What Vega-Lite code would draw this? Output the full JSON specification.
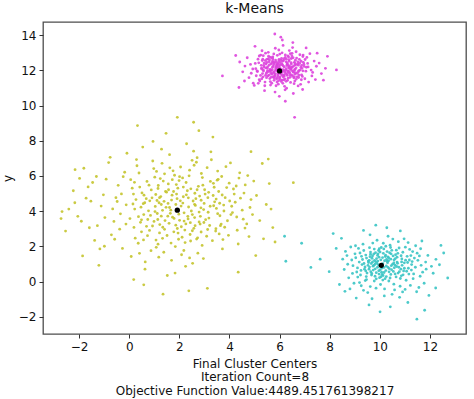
{
  "$schema": "https://vega.github.io/schema/vega-lite/v6.json",
  "autosize": "none",
  "width": 423,
  "height": 312,
  "padding": {"left": 43, "top": 22, "right": 8, "bottom": 65},
  "background": "white",
  "title": {"text": "k-Means", "fontSize": 14, "font": "DejaVu Sans", "fontWeight": "normal", "color": "#111", "offset": 6},
  "config": {
    "view": {"stroke": "#4d4d4d", "strokeWidth": 1.3},
    "axis": {"grid": false, "domain": false, "labelOverlap": false, "tickColor": "#333", "tickSize": 4, "labelFont": "DejaVu Sans", "labelFontSize": 12, "labelColor": "#111", "titleFont": "DejaVu Sans", "titleFontSize": 12, "titleFontWeight": "normal", "titleColor": "#111"}
  },
  "datasets": {
    "m": [
{"x":6.12,"y":12.31},{"x":5.74,"y":11.62},{"x":6.45,"y":12.08},{"x":5.31,"y":12.55},{"x":6.88,"y":11.74},{"x":5.95,"y":11.21},{"x":6.23,"y":12.87},{"x":5.52,"y":11.98},{"x":7.14,"y":12.19},{"x":4.87,"y":11.83},
{"x":6.03,"y":12.44},{"x":6.61,"y":11.39},{"x":5.68,"y":12.71},{"x":6.34,"y":11.55},{"x":5.19,"y":11.47},{"x":6.79,"y":12.62},{"x":5.86,"y":12.02},{"x":6.50,"y":12.96},{"x":5.41,"y":11.12},{"x":7.32,"y":11.88},
{"x":6.17,"y":11.73},{"x":4.62,"y":12.24},{"x":5.97,"y":13.15},{"x":6.72,"y":12.35},{"x":5.58,"y":12.48},{"x":6.28,"y":10.98},{"x":5.05,"y":12.09},{"x":7.01,"y":11.52},{"x":6.41,"y":12.11},{"x":5.77,"y":12.93},
{"x":6.09,"y":11.44},{"x":6.93,"y":12.78},{"x":5.24,"y":11.71},{"x":6.56,"y":11.89},{"x":5.90,"y":12.27},{"x":6.66,"y":13.05},{"x":5.46,"y":12.36},{"x":6.20,"y":11.09},{"x":7.58,"y":12.41},{"x":4.95,"y":11.27},
{"x":6.38,"y":12.52},{"x":5.63,"y":11.36},{"x":6.01,"y":11.85},{"x":6.84,"y":11.20},{"x":5.35,"y":12.83},{"x":6.47,"y":12.67},{"x":5.82,"y":10.76},{"x":7.21,"y":12.94},{"x":5.14,"y":12.63},{"x":6.25,"y":12.01},
{"x":6.70,"y":11.63},{"x":5.71,"y":12.16},{"x":6.14,"y":13.41},{"x":5.48,"y":11.58},{"x":6.98,"y":12.22},{"x":4.41,"y":12.47},{"x":6.33,"y":11.95},{"x":5.93,"y":11.69},{"x":6.59,"y":12.45},{"x":5.28,"y":12.12},
{"x":7.43,"y":11.47},{"x":6.06,"y":12.58},{"x":5.55,"y":13.02},{"x":6.77,"y":11.98},{"x":5.88,"y":11.50},{"x":6.44,"y":11.31},{"x":5.10,"y":11.96},{"x":6.86,"y":12.51},{"x":6.19,"y":12.19},{"x":5.66,"y":11.83},
{"x":7.09,"y":12.73},{"x":5.37,"y":12.27},{"x":6.52,"y":13.29},{"x":5.99,"y":10.52},{"x":6.30,"y":12.35},{"x":4.78,"y":11.58},{"x":6.62,"y":12.05},{"x":5.79,"y":12.39},{"x":7.26,"y":12.01},{"x":5.21,"y":11.39},
{"x":6.11,"y":11.90},{"x":6.91,"y":11.65},{"x":5.60,"y":12.59},{"x":6.36,"y":12.76},{"x":5.03,"y":12.39},{"x":6.74,"y":11.11},{"x":5.84,"y":11.99},{"x":6.48,"y":11.73},{"x":5.44,"y":12.97},{"x":7.67,"y":11.81},
{"x":6.04,"y":12.07},{"x":5.69,"y":11.27},{"x":6.27,"y":12.63},{"x":6.95,"y":12.45},{"x":5.32,"y":11.81},{"x":6.57,"y":11.57},{"x":5.91,"y":12.85},{"x":6.15,"y":11.62},{"x":4.99,"y":11.14},{"x":6.81,"y":12.88},
{"x":5.75,"y":12.22},{"x":6.40,"y":12.23},{"x":5.53,"y":11.68},{"x":7.05,"y":11.95},{"x":6.22,"y":10.89},{"x":5.17,"y":12.42},{"x":6.64,"y":12.31},{"x":5.96,"y":11.41},{"x":6.35,"y":11.87},{"x":5.62,"y":12.05},
{"x":7.38,"y":12.52},{"x":4.71,"y":12.71},{"x":6.08,"y":12.68},{"x":5.86,"y":11.12},{"x":6.53,"y":13.57},{"x":5.29,"y":11.52},{"x":6.89,"y":12.11},{"x":6.00,"y":12.13},{"x":5.49,"y":12.44},{"x":6.71,"y":11.82},
{"x":5.80,"y":11.66},{"x":6.26,"y":12.48},{"x":7.16,"y":11.33},{"x":5.12,"y":11.93},{"x":6.43,"y":12.94},{"x":5.72,"y":12.52},{"x":6.13,"y":11.26},{"x":5.38,"y":12.18},{"x":6.97,"y":12.34},{"x":5.94,"y":11.79},
{"x":6.58,"y":11.24},{"x":5.56,"y":12.80},{"x":6.31,"y":11.71},{"x":4.53,"y":11.91},{"x":6.82,"y":12.01},{"x":6.05,"y":13.88},{"x":5.65,"y":11.97},{"x":6.46,"y":12.43},{"x":5.25,"y":12.86},{"x":7.47,"y":12.23},
{"x":5.89,"y":12.33},{"x":6.18,"y":11.98},{"x":5.42,"y":11.33},{"x":6.68,"y":12.69},{"x":5.78,"y":11.43},{"x":6.37,"y":12.15},{"x":5.07,"y":11.69},{"x":7.02,"y":12.61},{"x":6.21,"y":11.51},{"x":5.59,"y":12.30},
{"x":6.54,"y":11.93},{"x":5.98,"y":12.62},{"x":6.87,"y":11.46},{"x":5.33,"y":12.63},{"x":6.29,"y":12.27},{"x":5.70,"y":11.78},{"x":6.10,"y":12.99},{"x":7.83,"y":12.11},{"x":4.84,"y":12.33},{"x":6.42,"y":11.60},
{"x":5.85,"y":12.10},{"x":6.63,"y":12.57},{"x":5.50,"y":11.89},{"x":6.24,"y":11.83},{"x":6.94,"y":12.86},{"x":5.27,"y":12.28},{"x":6.07,"y":11.36},{"x":5.73,"y":12.76},{"x":6.51,"y":12.19},{"x":5.15,"y":11.26},
{"x":6.78,"y":11.72},{"x":5.92,"y":11.94},{"x":6.39,"y":13.12},{"x":5.61,"y":11.53},{"x":7.12,"y":12.39},{"x":6.02,"y":11.63},{"x":5.45,"y":12.14},{"x":6.60,"y":12.03},{"x":5.83,"y":13.25},{"x":6.32,"y":11.43},
{"x":4.93,"y":12.07},{"x":6.75,"y":12.29},{"x":5.76,"y":11.87},{"x":6.16,"y":12.56},{"x":5.36,"y":11.96},{"x":7.29,"y":11.68},{"x":6.49,"y":12.82},{"x":5.97,"y":12.21},{"x":5.64,"y":11.16},{"x":6.85,"y":12.16},
{"x":6.23,"y":10.24},{"x":5.19,"y":12.81},{"x":6.67,"y":11.50},{"x":5.87,"y":12.47},{"x":6.44,"y":12.09},{"x":5.54,"y":12.65},{"x":7.07,"y":12.17},{"x":3.72,"y":11.68},{"x":8.27,"y":12.02},{"x":6.60,"y":9.33},
{"x":5.81,"y":14.06},{"x":4.38,"y":11.02},{"x":7.91,"y":12.79},{"x":5.02,"y":13.36},{"x":7.06,"y":13.27},{"x":6.55,"y":10.68},{"x":5.40,"y":10.84},{"x":7.75,"y":11.44},{"x":4.25,"y":12.84},{"x":6.11,"y":13.72},
{"x":5.30,"y":13.11},{"x":6.92,"y":10.91},{"x":7.50,"y":12.97},{"x":4.60,"y":11.39},{"x":6.06,"y":11.78},{"x":5.88,"y":12.26},{"x":6.27,"y":12.09},{"x":5.63,"y":12.00},{"x":6.41,"y":11.86},{"x":5.94,"y":12.40},
{"x":6.19,"y":11.68},{"x":5.77,"y":11.91},{"x":6.34,"y":12.31},{"x":5.53,"y":12.21},{"x":6.66,"y":12.14},{"x":5.99,"y":11.56},{"x":6.12,"y":12.51},{"x":5.69,"y":12.43},{"x":6.48,"y":11.99},{"x":5.82,"y":11.73},
{"x":6.23,"y":12.73},{"x":5.47,"y":11.82},{"x":6.75,"y":11.92},{"x":6.03,"y":12.29},{"x":5.90,"y":11.33},{"x":6.38,"y":12.60},{"x":5.58,"y":11.72},{"x":6.14,"y":12.04},{"x":5.73,"y":12.64},{"x":6.57,"y":12.25},
{"x":5.35,"y":12.02},{"x":6.29,"y":11.77},{"x":6.01,"y":12.92},{"x":5.86,"y":12.17},{"x":6.52,"y":11.67},{"x":5.66,"y":12.35},{"x":6.17,"y":11.45},{"x":6.80,"y":12.40},{"x":5.95,"y":12.05},{"x":5.43,"y":12.55},
{"x":6.36,"y":11.96},{"x":6.09,"y":12.36},{"x":5.79,"y":11.56},{"x":6.61,"y":11.78},
{"x":5.51,"y":12.12},{"x":6.47,"y":12.35},{"x":5.84,"y":12.58},{"x":6.21,"y":11.92},{"x":5.67,"y":11.61},{"x":6.73,"y":12.48},{"x":6.02,"y":11.48},{"x":5.38,"y":12.41},{"x":6.33,"y":12.82},{"x":5.92,"y":12.14},
{"x":6.59,"y":11.62},{"x":5.76,"y":12.31},{"x":6.15,"y":12.24},{"x":5.44,"y":11.71},{"x":6.88,"y":12.27},{"x":6.08,"y":11.89},{"x":5.61,"y":12.74},{"x":6.42,"y":11.73},{"x":5.97,"y":12.53},{"x":6.26,"y":11.37},
{"x":5.29,"y":12.07},{"x":6.64,"y":11.86},{"x":5.83,"y":11.81},{"x":6.31,"y":12.42},{"x":5.71,"y":12.03},{"x":6.54,"y":12.71},{"x":6.11,"y":11.71},{"x":5.49,"y":12.62},{"x":6.93,"y":11.97},{"x":5.89,"y":11.58},
{"x":6.37,"y":12.19},{"x":5.58,"y":11.93},{"x":6.18,"y":12.66},{"x":6.76,"y":11.59},{"x":5.95,"y":12.33},{"x":5.34,"y":11.63},{"x":6.49,"y":12.16},{"x":6.04,"y":11.97},{"x":5.78,"y":12.46},{"x":6.62,"y":12.37}
    ],
    "yl": [
{"x":1.45,"y":5.12},{"x":2.83,"y":3.27},{"x":0.62,"y":4.48},{"x":3.51,"y":5.76},{"x":1.97,"y":2.41},{"x":-0.35,"y":3.85},{"x":2.41,"y":6.33},{"x":4.12,"y":3.92},{"x":1.08,"y":1.95},{"x":2.66,"y":4.71},
{"x":0.21,"y":5.64},{"x":3.09,"y":2.58},{"x":1.73,"y":3.66},{"x":-1.12,"y":4.29},{"x":4.58,"y":5.03},{"x":2.25,"y":0.87},{"x":0.94,"y":6.85},{"x":3.77,"y":4.35},{"x":1.34,"y":3.09},{"x":2.94,"y":5.48},
{"x":-0.71,"y":2.66},{"x":1.61,"y":7.21},{"x":4.35,"y":2.14},{"x":0.45,"y":3.37},{"x":2.52,"y":3.81},{"x":3.28,"y":6.92},{"x":-1.64,"y":5.38},{"x":1.89,"y":4.97},{"x":0.08,"y":1.43},{"x":3.64,"y":3.18},
{"x":2.13,"y":5.89},{"x":0.77,"y":4.02},{"x":4.86,"y":4.66},{"x":1.21,"y":2.77},{"x":2.74,"y":1.62},{"x":-0.18,"y":6.21},{"x":3.35,"y":4.89},{"x":1.56,"y":5.55},{"x":5.21,"y":3.47},{"x":0.36,"y":2.18},
{"x":2.37,"y":4.24},{"x":-2.05,"y":3.71},{"x":1.02,"y":5.93},{"x":3.89,"y":5.34},{"x":2.08,"y":3.12},{"x":0.54,"y":7.64},{"x":2.97,"y":4.09},{"x":1.69,"y":1.21},{"x":4.41,"y":6.18},{"x":-0.53,"y":4.77},
{"x":2.59,"y":6.61},{"x":1.14,"y":3.53},{"x":3.18,"y":3.61},{"x":-1.38,"y":2.34},{"x":2.22,"y":2.93},{"x":0.88,"y":5.21},{"x":3.72,"y":1.86},{"x":1.81,"y":6.04},{"x":4.97,"y":5.71},{"x":0.15,"y":4.41},
{"x":2.46,"y":5.27},{"x":1.39,"y":4.56},{"x":3.45,"y":2.87},{"x":-0.92,"y":5.82},{"x":2.01,"y":3.48},{"x":0.69,"y":3.14},{"x":4.23,"y":4.51},{"x":1.52,"y":0.35},{"x":2.88,"y":6.14},{"x":-2.41,"y":4.12},
{"x":1.26,"y":4.83},{"x":3.57,"y":5.12},{"x":0.31,"y":6.58},{"x":2.69,"y":2.42},{"x":1.94,"y":5.31},{"x":-0.27,"y":1.89},{"x":4.69,"y":3.28},{"x":1.07,"y":2.36},{"x":3.03,"y":4.97},{"x":2.29,"y":7.83},
{"x":0.59,"y":4.91},{"x":5.47,"y":4.38},{"x":1.64,"y":3.88},{"x":-1.81,"y":6.44},{"x":2.79,"y":3.39},{"x":0.98,"y":6.42},{"x":3.96,"y":2.63},{"x":1.47,"y":4.22},{"x":2.18,"y":1.77},{"x":-0.61,"y":3.42},
{"x":3.24,"y":5.69},{"x":1.78,"y":2.83},{"x":0.42,"y":5.37},{"x":4.51,"y":4.06},{"x":2.55,"y":4.58},{"x":-1.03,"y":4.93},{"x":1.31,"y":6.72},{"x":3.62,"y":3.74},{"x":0.19,"y":3.08},{"x":2.91,"y":2.06},
{"x":1.86,"y":4.38},{"x":-2.68,"y":3.98},{"x":4.04,"y":6.74},{"x":1.16,"y":5.46},{"x":2.35,"y":3.56},{"x":0.73,"y":2.61},{"x":3.41,"y":4.53},{"x":1.59,"y":3.31},{"x":5.73,"y":3.07},{"x":-0.44,"y":5.47},
{"x":2.62,"y":5.02},{"x":1.04,"y":4.27},{"x":3.83,"y":4.77},{"x":2.05,"y":6.51},{"x":0.27,"y":4.66},{"x":3.15,"y":3.94},{"x":-1.27,"y":3.18},{"x":1.72,"y":5.79},{"x":4.78,"y":2.56},{"x":0.85,"y":3.76},
{"x":2.43,"y":2.68},{"x":-0.09,"y":7.29},{"x":3.53,"y":6.28},{"x":1.38,"y":1.67},{"x":2.99,"y":4.44},{"x":0.51,"y":5.04},{"x":4.29,"y":3.67},{"x":1.92,"y":3.02},{"x":-1.53,"y":4.57},{"x":2.71,"y":7.04},
{"x":1.11,"y":4.61},{"x":3.32,"y":2.33},{"x":0.64,"y":1.12},{"x":2.16,"y":4.82},{"x":-0.82,"y":6.76},{"x":4.63,"y":5.49},{"x":1.49,"y":5.08},{"x":2.84,"y":3.71},{"x":0.03,"y":3.58},{"x":3.69,"y":5.97},
{"x":1.83,"y":0.49},{"x":-2.23,"y":5.16},{"x":2.48,"y":4.01},{"x":1.22,"y":3.24},{"x":3.92,"y":3.46},{"x":0.39,"y":6.17},{"x":2.27,"y":5.63},{"x":5.08,"y":4.89},{"x":1.67,"y":2.19},{"x":-0.38,"y":2.98},
{"x":3.11,"y":6.47},{"x":0.91,"y":4.76},{"x":2.58,"y":3.03},{"x":4.16,"y":5.26},{"x":1.29,"y":7.52},{"x":-1.17,"y":1.86},{"x":2.04,"y":4.59},{"x":0.58,"y":3.81},{"x":3.48,"y":4.16},{"x":1.75,"y":6.29},
{"x":2.96,"y":1.31},{"x":-0.66,"y":4.13},{"x":4.44,"y":4.74},{"x":1.18,"y":1.39},{"x":2.39,"y":6.01},{"x":0.12,"y":5.31},{"x":3.59,"y":2.71},{"x":1.55,"y":4.44},{"x":-1.91,"y":3.43},{"x":2.76,"y":5.41},
{"x":0.81,"y":2.91},{"x":3.86,"y":6.53},{"x":2.11,"y":2.52},{"x":0.47,"y":4.23},{"x":4.92,"y":3.81},{"x":1.43,"y":3.47},{"x":-0.24,"y":5.96},{"x":3.21,"y":3.19},{"x":1.99,"y":5.74},{"x":5.59,"y":5.57},
{"x":0.71,"y":5.69},{"x":2.64,"y":4.33},{"x":-1.46,"y":5.63},{"x":1.33,"y":2.46},{"x":3.78,"y":4.01},{"x":2.19,"y":3.91},{"x":0.24,"y":2.47},{"x":4.31,"y":2.92},{"x":1.62,"y":6.46},{"x":2.87,"y":2.82},
{"x":-0.97,"y":3.64},{"x":3.39,"y":5.36},{"x":1.06,"y":4.95},{"x":2.53,"y":1.04},{"x":0.37,"y":3.69},{"x":4.09,"y":4.28},{"x":1.91,"y":4.71},{"x":-2.54,"y":2.87},{"x":3.05,"y":3.52},{"x":0.95,"y":7.96},
{"x":2.32,"y":5.16},{"x":4.73,"y":6.02},{"x":1.51,"y":2.62},{"x":-0.48,"y":4.55},{"x":3.67,"y":3.27},{"x":1.24,"y":5.85},{"x":2.81,"y":4.86},{"x":0.63,"y":0.71},{"x":3.99,"y":5.59},{"x":2.09,"y":1.53},
{"x":-1.72,"y":4.74},{"x":2.44,"y":3.35},{"x":1.12,"y":3.87},{"x":3.26,"y":7.37},{"x":0.17,"y":4.97},{"x":4.55,"y":3.55},{"x":1.79,"y":3.59},{"x":5.36,"y":2.43},{"x":-0.13,"y":3.27},{"x":2.68,"y":6.78},
{"x":0.87,"y":1.76},{"x":3.47,"y":4.69},{"x":1.41,"y":6.12},{"x":2.23,"y":2.22},{"x":-1.31,"y":5.97},{"x":4.19,"y":4.97},{"x":1.66,"y":4.06},{"x":2.92,"y":5.91},{"x":0.49,"y":2.83},{"x":3.81,"y":3.09},
{"x":2.14,"y":4.46},{"x":-0.76,"y":7.06},{"x":3.13,"y":2.96},{"x":1.28,"y":3.72},{"x":0.06,"y":5.79},{"x":2.57,"y":7.41},{"x":4.38,"y":5.88},{"x":1.84,"y":1.99},{"x":-2.17,"y":4.48},{"x":2.36,"y":4.76},
{"x":1.09,"y":6.26},{"x":3.55,"y":5.81},{"x":0.74,"y":3.53},{"x":4.82,"y":4.21},{"x":1.57,"y":5.22},{"x":2.73,"y":2.49},{"x":-0.58,"y":2.41},{"x":3.37,"y":4.31},{"x":1.95,"y":2.76},{"x":0.29,"y":6.93},
{"x":4.06,"y":3.81},{"x":2.41,"y":1.35},{"x":1.19,"y":4.48},{"x":-1.59,"y":3.06},{"x":3.17,"y":5.07},{"x":0.56,"y":4.43},{"x":5.66,"y":4.12},{"x":2.01,"y":5.96},{"x":0.99,"y":3.42},{"x":2.86,"y":4.19},
{"x":-0.31,"y":4.98},{"x":3.74,"y":2.39},{"x":1.36,"y":5.71},{"x":-1.98,"y":5.86},{"x":2.51,"y":6.89},{"x":4.62,"y":3.04},{"x":1.71,"y":4.91},{"x":0.41,"y":1.61},{"x":3.01,"y":5.22},{"x":2.26,"y":3.28},
{"x":-0.99,"y":2.01},{"x":3.61,"y":4.45},{"x":1.15,"y":2.13},{"x":4.27,"y":5.43},{"x":0.82,"y":4.59},{"x":2.61,"y":3.64},{"x":6.55,"y":5.62},{"x":5.82,"y":2.25},{"x":-2.72,"y":3.58},{"x":-1.86,"y":1.46},
{"x":0.33,"y":8.86},{"x":1.47,"y":8.42},{"x":2.78,"y":8.57},{"x":3.34,"y":8.21},{"x":1.92,"y":9.33},{"x":2.57,"y":9.05},{"x":5.31,"y":6.71},{"x":5.05,"y":1.48},{"x":0.18,"y":0.12},{"x":2.38,"y":-0.52},
{"x":3.12,"y":-0.38},{"x":1.35,"y":-0.71},{"x":4.35,"y":0.54},{"x":-1.21,"y":0.93},{"x":5.55,"y":6.96},{"x":-2.16,"y":6.36},{"x":4.86,"y":7.38},{"x":0.58,"y":-0.18},
{"x":1.61,"y":4.21},{"x":2.34,"y":3.71},{"x":1.03,"y":3.98},{"x":2.87,"y":4.62},{"x":1.77,"y":5.12},{"x":0.68,"y":4.71},{"x":2.52,"y":2.89},{"x":1.28,"y":4.38},{"x":3.23,"y":4.28},{"x":2.07,"y":4.29},
{"x":0.49,"y":3.51},{"x":2.71,"y":5.22},{"x":1.86,"y":3.21},{"x":3.53,"y":3.86},{"x":1.15,"y":5.29},{"x":2.28,"y":4.93},{"x":0.93,"y":3.16},{"x":2.98,"y":3.36},{"x":1.54,"y":3.72},{"x":3.71,"y":4.92},
{"x":2.16,"y":5.37},{"x":0.22,"y":4.12},{"x":2.61,"y":4.39},{"x":1.41,"y":2.97},{"x":3.36,"y":5.58},{"x":1.98,"y":3.83},{"x":0.79,"y":5.48},{"x":2.45,"y":2.31},{"x":1.69,"y":4.63},{"x":4.01,"y":4.58},
{"x":2.19,"y":3.44},{"x":0.57,"y":2.37},{"x":3.14,"y":4.77},{"x":1.33,"y":4.05},{"x":2.79,"y":3.95},{"x":1.88,"y":5.51},{"x":-0.12,"y":4.36},{"x":2.63,"y":3.18},{"x":1.21,"y":4.77},{"x":3.46,"y":3.01}
    ],
    "cy": [
{"x":10.32,"y":1.41},{"x":9.64,"y":0.57},{"x":10.87,"y":1.12},{"x":9.21,"y":1.63},{"x":10.05,"y":0.28},{"x":11.14,"y":0.76},{"x":9.78,"y":1.85},{"x":10.56,"y":-0.14},{"x":8.93,"y":0.91},{"x":10.41,"y":2.07},
{"x":9.47,"y":0.12},{"x":11.38,"y":1.34},{"x":10.12,"y":1.02},{"x":9.85,"y":-0.37},{"x":10.73,"y":0.49},{"x":8.69,"y":1.48},{"x":11.02,"y":1.96},{"x":9.58,"y":1.21},{"x":10.24,"y":0.63},{"x":11.61,"y":0.31},
{"x":9.33,"y":2.13},{"x":10.63,"y":1.53},{"x":9.97,"y":0.43},{"x":10.91,"y":-0.58},{"x":9.12,"y":0.26},{"x":10.48,"y":1.78},{"x":11.27,"y":0.97},{"x":9.71,"y":1.46},{"x":10.18,"y":-0.81},{"x":8.84,"y":1.97},
{"x":10.82,"y":0.18},{"x":9.41,"y":0.84},{"x":11.49,"y":1.62},{"x":10.01,"y":1.69},{"x":9.26,"y":-0.23},{"x":10.67,"y":0.86},{"x":11.83,"y":1.11},{"x":9.89,"y":2.35},{"x":10.36,"y":0.04},{"x":8.58,"y":0.69},
{"x":11.09,"y":1.44},{"x":9.67,"y":0.38},{"x":10.52,"y":2.42},{"x":9.04,"y":1.36},{"x":10.95,"y":0.61},{"x":10.27,"y":1.27},{"x":9.52,"y":-0.62},{"x":11.71,"y":0.54},{"x":10.09,"y":0.77},{"x":9.18,"y":1.11},
{"x":10.77,"y":1.91},{"x":11.22,"y":-0.21},{"x":9.81,"y":0.99},{"x":10.44,"y":0.41},{"x":8.76,"y":0.22},{"x":11.43,"y":2.04},{"x":9.93,"y":1.58},{"x":10.59,"y":-0.47},{"x":9.36,"y":1.77},{"x":10.98,"y":1.07},
{"x":12.06,"y":0.87},{"x":9.61,"y":2.66},{"x":10.21,"y":0.17},{"x":11.31,"y":1.71},{"x":8.97,"y":-0.09},{"x":10.69,"y":1.39},{"x":9.74,"y":0.66},{"x":11.56,"y":-0.33},{"x":10.14,"y":2.18},{"x":9.44,"y":1.51},
{"x":10.86,"y":0.33},{"x":9.08,"y":0.55},{"x":11.18,"y":1.23},{"x":10.03,"y":-0.16},{"x":9.55,"y":1.09},{"x":10.61,"y":0.94},{"x":11.92,"y":1.49},{"x":8.88,"y":1.23},{"x":10.39,"y":1.64},{"x":9.99,"y":0.23},
{"x":11.05,"y":0.08},{"x":9.29,"y":0.97},{"x":10.74,"y":2.27},{"x":11.65,"y":0.93},{"x":9.69,"y":-0.97},{"x":10.29,"y":1.16},{"x":8.63,"y":1.72},{"x":11.35,"y":0.44},{"x":9.87,"y":1.31},{"x":10.54,"y":0.58},
{"x":9.15,"y":1.89},{"x":10.92,"y":1.67},{"x":11.26,"y":0.66},{"x":9.49,"y":0.49},{"x":10.16,"y":1.86},{"x":12.24,"y":1.27},{"x":9.78,"y":0.04},{"x":10.46,"y":0.91},{"x":8.81,"y":-0.41},{"x":11.13,"y":2.22},
{"x":9.63,"y":1.68},{"x":10.81,"y":-0.26},{"x":10.07,"y":0.54},{"x":9.39,"y":0.71},{"x":11.52,"y":1.21},{"x":10.33,"y":2.58},{"x":9.01,"y":1.58},{"x":10.65,"y":0.27},{"x":11.77,"y":-0.09},{"x":9.91,"y":0.82},
{"x":10.23,"y":1.51},{"x":9.23,"y":0.38},{"x":10.88,"y":1.29},{"x":11.42,"y":0.82},{"x":9.59,"y":1.93},{"x":10.49,"y":-0.72},{"x":8.72,"y":0.99},{"x":11.07,"y":0.59},{"x":9.83,"y":1.14},{"x":10.71,"y":1.04},
{"x":9.35,"y":-0.49},{"x":12.13,"y":0.48},{"x":10.11,"y":1.37},{"x":9.72,"y":2.19},{"x":11.19,"y":1.83},{"x":10.38,"y":0.74},{"x":9.11,"y":0.78},{"x":10.84,"y":0.71},{"x":11.63,"y":1.87},{"x":9.46,"y":0.29},
{"x":10.19,"y":-0.41},{"x":10.97,"y":2.43},{"x":9.95,"y":1.77},{"x":8.52,"y":1.28},{"x":11.33,"y":0.17},{"x":10.57,"y":1.23},{"x":9.27,"y":1.44},{"x":10.02,"y":0.68},{"x":11.85,"y":0.71},{"x":9.66,"y":1.03},
{"x":10.43,"y":1.94},{"x":10.79,"y":-0.89},{"x":9.19,"y":-0.05},{"x":11.11,"y":1.09},{"x":9.86,"y":0.51},{"x":10.26,"y":0.89},{"x":11.47,"y":-0.57},{"x":9.53,"y":0.93},{"x":10.66,"y":1.79},{"x":12.38,"y":0.96},
{"x":9.03,"y":2.04},{"x":10.35,"y":1.19},{"x":9.76,"y":1.57},{"x":10.93,"y":0.39},{"x":11.24,"y":1.48},{"x":9.42,"y":0.06},{"x":10.13,"y":0.35},{"x":8.91,"y":0.47},{"x":11.58,"y":1.46},{"x":10.51,"y":0.99},
{"x":9.62,"y":-0.28},{"x":10.06,"y":1.94},{"x":11.01,"y":-0.44},{"x":9.31,"y":1.26},{"x":10.76,"y":0.82},{"x":12.55,"y":1.63},{"x":7.98,"y":0.57},{"x":8.26,"y":1.89},{"x":8.39,"y":-0.16},{"x":8.47,"y":2.46},
{"x":11.96,"y":-0.78},{"x":11.68,"y":2.31},{"x":12.71,"y":0.21},{"x":10.42,"y":-1.43},{"x":9.57,"y":-1.32},{"x":11.12,"y":-1.18},{"x":11.48,"y":-2.13},{"x":10.28,"y":3.06},{"x":9.35,"y":2.91},{"x":8.14,"y":2.73},
{"x":7.62,"y":1.28},{"x":6.88,"y":2.18},{"x":7.25,"y":0.81},{"x":6.20,"y":2.58},{"x":6.25,"y":1.16},{"x":12.44,"y":2.06},{"x":11.79,"y":-1.62},{"x":10.82,"y":2.88},{"x":9.06,"y":-0.93},{"x":8.61,"y":-0.55},
{"x":10.01,"y":-1.71},{"x":12.23,"y":-0.36},{"x":9.84,"y":3.21},{"x":10.08,"y":0.96},{"x":9.92,"y":1.17},{"x":10.17,"y":0.81},{"x":9.82,"y":0.73},{"x":10.31,"y":1.08},{"x":9.69,"y":1.33},{"x":10.44,"y":1.28},
{"x":9.96,"y":0.62},{"x":10.58,"y":0.79},{"x":9.73,"y":0.88},{"x":10.22,"y":1.43},{"x":9.88,"y":1.06},{"x":10.37,"y":0.56},{"x":10.04,"y":1.24},{"x":9.57,"y":0.71},{"x":10.69,"y":1.11},{"x":9.81,"y":0.31},
{"x":10.26,"y":0.29},{"x":10.14,"y":1.61},{"x":9.61,"y":1.42},
{"x":10.19,"y":1.19},{"x":9.76,"y":0.93},{"x":10.47,"y":0.68},{"x":9.91,"y":1.49},{"x":10.62,"y":1.31},{"x":9.54,"y":1.17},{"x":10.33,"y":0.81},{"x":9.98,"y":1.87},{"x":10.78,"y":0.57},{"x":9.68,"y":0.47},
{"x":10.24,"y":2.01},{"x":9.37,"y":1.03},{"x":10.89,"y":0.93},{"x":10.09,"y":0.41},{"x":9.83,"y":1.64},{"x":10.53,"y":1.46},{"x":9.47,"y":1.34},{"x":11.03,"y":1.22},{"x":10.12,"y":0.09},{"x":9.79,"y":1.21},
{"x":10.41,"y":0.21},{"x":9.25,"y":0.64},{"x":10.72,"y":1.61},{"x":9.94,"y":0.97},{"x":11.16,"y":0.43},{"x":10.29,"y":1.71},{"x":9.59,"y":0.83},{"x":10.61,"y":0.44},{"x":9.97,"y":1.39},{"x":10.85,"y":1.47},
{"x":9.44,"y":0.61},{"x":10.36,"y":1.35},{"x":11.29,"y":1.14},{"x":9.71,"y":1.12},{"x":10.17,"y":0.52},{"x":10.56,"y":1.06},{"x":9.86,"y":0.16},{"x":10.98,"y":0.76},{"x":9.63,"y":1.56},{"x":10.45,"y":1.58}
    ],
    "ctr": [{"x":6.0,"y":11.96},{"x":1.92,"y":4.06},{"x":10.06,"y":0.93}]
  },
  "layer": [
    {
      "data": {"name": "yl"},
      "mark": {"type": "point", "filled": true, "size": 8, "color": "#c4c42e", "opacity": 0.9},
      "encoding": {
        "x": {"field": "x", "type": "quantitative", "scale": {"domain": [-3.44, 13.44], "nice": false, "zero": false},
              "axis": {"values": [-2,0,2,4,6,8,10,12], "tickCount": 30, "format": "d", "labelPadding": 3, "titlePadding": 6, "titleLineHeight": 13.5,
                       "title": ["Final Cluster Centers", "Iteration Count=8", "Objective Function Value:4489.451761398217"]}},
        "y": {"field": "y", "type": "quantitative", "scale": {"domain": [-2.97, 14.74], "nice": false, "zero": false},
              "axis": {"values": [-2,0,2,4,6,8,10,12,14], "tickCount": 30, "format": "d", "labelPadding": 3, "title": "y", "titlePadding": 4}}
      }
    },
    {
      "data": {"name": "m"},
      "mark": {"type": "point", "filled": true, "size": 8, "color": "#dd44dd", "opacity": 0.9},
      "encoding": {"x": {"field": "x", "type": "quantitative"}, "y": {"field": "y", "type": "quantitative"}}
    },
    {
      "data": {"name": "cy"},
      "mark": {"type": "point", "filled": true, "size": 8, "color": "#38c4c4", "opacity": 0.9},
      "encoding": {"x": {"field": "x", "type": "quantitative"}, "y": {"field": "y", "type": "quantitative"}}
    },
    {
      "data": {"name": "ctr"},
      "mark": {"type": "point", "filled": true, "size": 28, "color": "black", "opacity": 1},
      "encoding": {"x": {"field": "x", "type": "quantitative"}, "y": {"field": "y", "type": "quantitative"}}
    }
  ]
}
